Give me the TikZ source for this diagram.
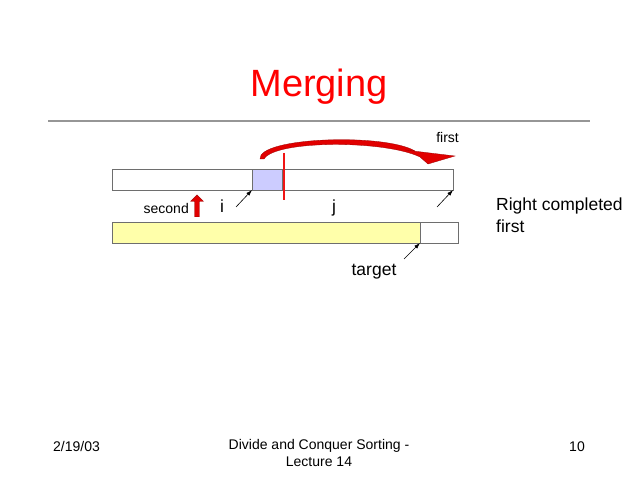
\documentclass[tikz,border=0pt]{standalone}
\usepackage{fontspec}
\setmainfont{Liberation Sans}
\usetikzlibrary{shapes.arrows, arrows.meta}
\definecolor{barline}{RGB}{110,110,110}
\definecolor{rulegray}{RGB}{150,150,150}
\definecolor{cellblue}{RGB}{204,204,255}
\definecolor{cellyellow}{RGB}{255,255,170}
\definecolor{arrowred}{RGB}{225,0,0}
\definecolor{splitred}{RGB}{240,20,20}

\begin{document}
\begin{tikzpicture}[
		x=1pt, y=-1pt,
		cell/.style={draw=barline, line width=0.8pt, inner sep=0pt, outer sep=0pt, anchor=north west, minimum height=21pt},
		lbl/.style={inner sep=0pt, anchor=base},
		arrow/.style={-{Latex[length=6pt, width=4pt]}, line width=0.6pt},
		big/.style={font=\fontsize{17.5}{22}\selectfont},
		small/.style={font=\fontsize{14}{17}\selectfont}
	]
		\useasboundingbox[fill=white] (0,0) rectangle (638,478);

		% title and rule
		\node[lbl, text=red, font=\fontsize{38}{40}\selectfont] (title) at (319,97) {Merging};
		\coordinate (ruleL) at (48,121);
		\coordinate (ruleR) at (590,121);
		\draw[rulegray, line width=1.6pt] (ruleL) -- (ruleR);

		% the two arrays
		\node[cell, fill=white, minimum width=341pt] (upper) at (112,169) {};
		\node[cell, fill=cellblue, minimum width=30pt] (done) at (252,169) {};
		\node[cell, fill=cellyellow, minimum width=308pt] (merged) at (112,222) {};
		\node[cell, fill=white, minimum width=38pt] (slot) at (420,222) {};

		% split line
		\coordinate (splitT) at (284,153);
		\coordinate (splitB) at (284,200);
		\draw[draw=splitred, line width=1.6pt] (splitT) -- (splitB);

		% curved arrow
		\fill[arrowred, draw=red!60!black, line width=0.3pt]
			(260,159) .. controls (258,137) and (385,133) .. (415,151)
			-- (405,150) -- (455,156) -- (428,164) -- (420,157)
			.. controls (385,140) and (275,140) .. (264,159) -- cycle;

		% labels
		\node[lbl, small, anchor=base east] (first) at (459,143) {first};
		\node[lbl, small, anchor=base east] (second) at (189,214) {second};
		\node[single arrow, fill=arrowred, draw=red!60!black, line width=0.3pt, shape border rotate=90,
			minimum height=22pt, minimum width=13pt, single arrow head extend=3pt, inner sep=1.5pt] (up) at (197,207) {};
		\node[lbl, big] (i) at (222,213) {i};
		\node[lbl, big] (j) at (334,213) {j};
		\node[lbl, big, anchor=base] (target) at (374,276) {target};
		\node[big, anchor=north west, align=left, inner sep=0pt] (note) at (496,198) {Right completed\\first};

		% pointers
		\coordinate (iTail) at (236,207);
		\coordinate (jTail) at (437,207);
		\coordinate (tTail) at (404,259);
		\draw[arrow] (iTail) -- (done.south west);
		\draw[arrow] (jTail) -- (upper.south east);
		\draw[arrow] (tTail) -- (slot.south west);

		% footer
		\node[lbl, small, anchor=base west] (date) at (53,452) {2/19/03};
		\node[small, anchor=north, align=center, inner sep=0pt] (course) at (319,439) {Divide and Conquer Sorting -\\Lecture 14};
		\node[lbl, small, anchor=base east] (page) at (585,452) {10};
	\end{tikzpicture}
\end{document}
